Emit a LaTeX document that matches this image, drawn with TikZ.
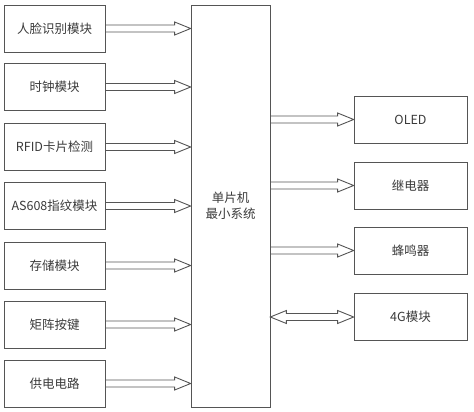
\documentclass[tikz,border=0pt]{standalone}
\usepackage{fontspec}
\setmainfont{Noto Sans CJK SC}
\usepackage{tikz}
\usetikzlibrary{calc}
\definecolor{LineColor}{HTML}{555555}
\definecolor{FontColor}{HTML}{3A3A3A}
\newcommand\nodeface{人脸识别模块}
\newcommand\nodeclock{时钟模块}
\newcommand\noderfid{RFID卡片检测}
\newcommand\nodefinger{AS608指纹模块}
\newcommand\nodestore{存储模块}
\newcommand\nodekeys{矩阵按键}
\newcommand\nodepower{供电电路}
\newcommand\nodemcu{单片机\\最小系统}
\newcommand\nodeoled{OLED}
\newcommand\noderelay{继电器}
\newcommand\nodebuzzer{蜂鸣器}
\newcommand\nodegsm{4G模块}
\tikzstyle{mynodestyle} = [rectangle, draw=LineColor, line width=0.7pt, text=FontColor, font=\fontsize{12.5pt}{16pt}\selectfont, inner sep=0pt]
\tikzstyle{ln} = [mynodestyle, minimum width=101pt, minimum height=47pt]
\tikzstyle{rn} = [mynodestyle, minimum width=113pt, minimum height=47pt]
\tikzstyle{mn} = [mynodestyle, minimum width=79pt, minimum height=402pt, align=center]
\tikzstyle{busline} = [draw=LineColor, line width=0.9pt]
% hollow bus arrow from #1 to #2
\newcommand\busto[2]{\draw[busline] ($(#1)+(0,-3.5)$) -- ($(#2)+(-16,-3.5)$) -- ($(#2)+(-16,-6.5)$) -- (#2) -- ($(#2)+(-16,6.5)$) -- ($(#2)+(-16,3.5)$) -- ($(#1)+(0,3.5)$);}
\newcommand\busboth[2]{\draw[busline] ($(#1)+(16,-3.5)$) -- ($(#2)+(-16,-3.5)$) -- ($(#2)+(-16,-6.5)$) -- (#2) -- ($(#2)+(-16,6.5)$) -- ($(#2)+(-16,3.5)$) -- ($(#1)+(16,3.5)$) -- ($(#1)+(16,6.5)$) -- (#1) -- ($(#1)+(16,-6.5)$) -- cycle;}

\begin{document}
\begin{tikzpicture}[x=1pt, y=-1pt]
\useasboundingbox (0, 0) rectangle (474, 412);
\node[ln] (face) at (54.5, 28.5) {\nodeface};
\node[ln] (clock) at (54.5, 87) {\nodeclock};
\node[ln] (rfid) at (54.5, 147) {\noderfid};
\node[ln] (finger) at (54.5, 206) {\nodefinger};
\node[ln] (store) at (54.5, 265.5) {\nodestore};
\node[ln] (keys) at (54.5, 324.5) {\nodekeys};
\node[ln] (power) at (54.5, 383.5) {\nodepower};
\node[mn] (mcu) at (230.5, 206) {\nodemcu};
\node[rn] (oled) at (410.5, 119.5) {\nodeoled};
\node[rn] (relay) at (410.5, 185.5) {\noderelay};
\node[rn] (buzzer) at (410.5, 250.5) {\nodebuzzer};
\node[rn] (gsm) at (410.5, 317) {\nodegsm};
\busto{face.east}{mcu.west |- face.east}
\busto{clock.east}{mcu.west |- clock.east}
\busto{rfid.east}{mcu.west |- rfid.east}
\busto{finger.east}{mcu.west |- finger.east}
\busto{store.east}{mcu.west |- store.east}
\busto{keys.east}{mcu.west |- keys.east}
\busto{power.east}{mcu.west |- power.east}
\busto{mcu.east |- oled.west}{oled.west}
\busto{mcu.east |- relay.west}{relay.west}
\busto{mcu.east |- buzzer.west}{buzzer.west}
\busboth{mcu.east |- gsm.west}{gsm.west}
\end{tikzpicture}
\end{document}
